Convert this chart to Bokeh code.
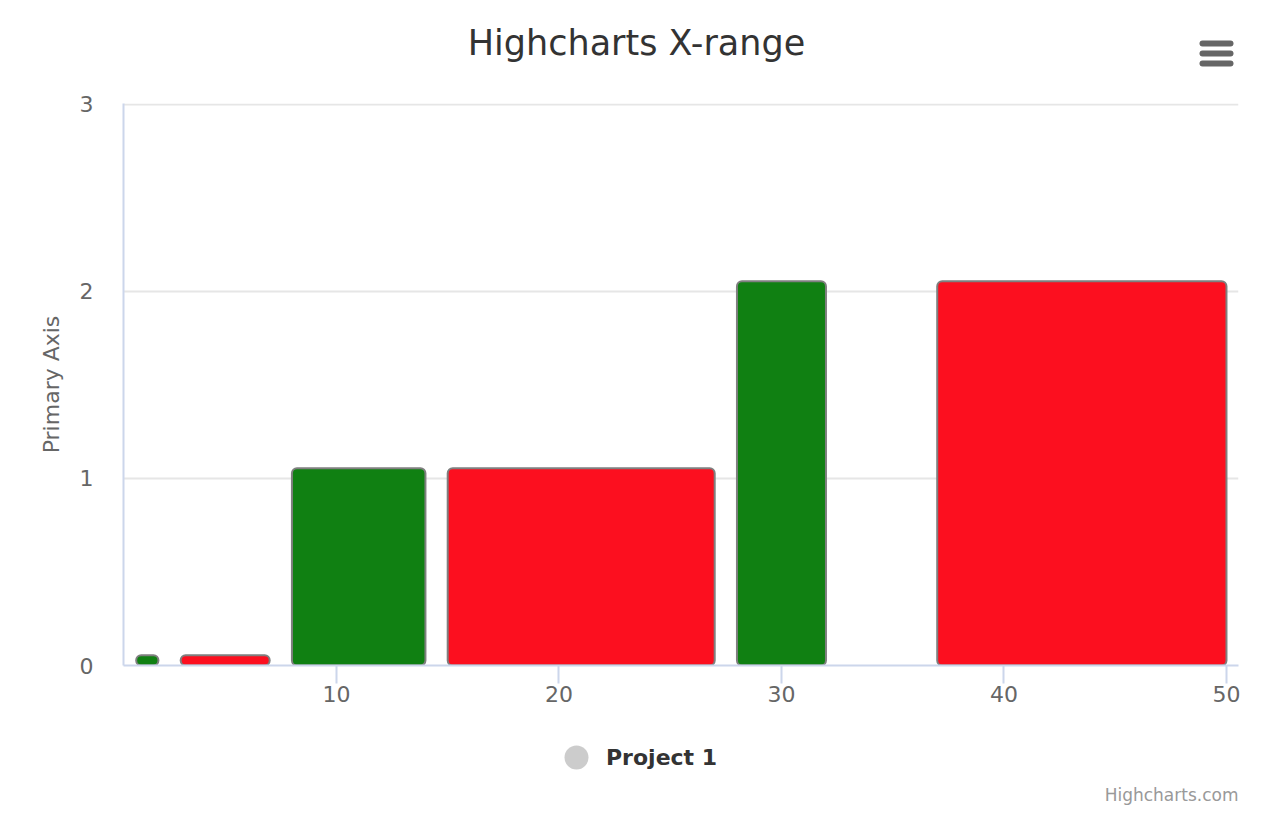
from bokeh.plotting import figure
from bokeh.layouts import column
from bokeh.models import (ColumnDataSource, FixedTicker, Legend, LegendItem,
                          Label, Range1d)
from bokeh.embed import file_html
from bokeh.resources import INLINE

# ---- data ----
x_start = [1, 3, 8, 15, 28, 37]
x_end = [2, 7, 14, 27, 32, 50]
y_top = [0.055, 0.055, 1.055, 1.055, 2.055, 2.055]
bar_colors = ["#108012", "#fc0f1f", "#108012", "#fc0f1f", "#108012", "#fc0f1f"]
x_ticks = [10, 20, 30, 40, 50]
y_ticks = [0, 1, 2, 3]
series_name = "Project 1"
chart_title = "Highcharts X-range"
credit_text = "Highcharts.com"

FONT = "DejaVu Sans"
W = 1256
FL, FR = 123, 1238   # page x of the plotting frame edges (frames are aligned in the column)


def bare(fig):
    fig.outline_line_color = None
    fig.background_fill_color = "white"
    fig.border_fill_color = "white"
    fig.grid.visible = False
    return fig


# ---- header: title + menu icon (page pixel coordinates, y down) ----
header = bare(figure(width=W, height=80, output_backend="svg", toolbar_location=None,
                     x_range=Range1d(FL, FR), y_range=Range1d(80, 0),
                     x_axis_location=None, y_axis_location=None,
                     min_border=0))
header.add_layout(Label(x=636, y=42, text=chart_title, text_align="center",
                        text_baseline="alphabetic", text_font=FONT,
                        text_font_size="35px", text_color="#333333"))
header.quad(left=[1199] * 3, right=[1233] * 3, top=[40, 50, 60],
            bottom=[46, 56, 66], fill_color="#666666", line_color=None,
            border_radius=3)

# ---- main chart ----
p = figure(width=W, height=635, output_backend="svg", toolbar_location=None,
           x_range=Range1d(0.43, 50.54), y_range=Range1d(0, 3.005),
           min_border_left=FL, min_border_right=W - FR, min_border_top=23,
           min_border_bottom=50)
p.outline_line_color = None
p.background_fill_color = "white"
p.border_fill_color = "white"

src = ColumnDataSource(dict(left=x_start, right=x_end, top=y_top,
                            bottom=[0] * len(x_start), color=bar_colors))
p.quad(left="left", right="right", top="top", bottom="bottom", source=src,
       fill_color="color", line_color="#7f7f7f", line_width=2, border_radius=5)

xa = p.xaxis[0]
xa.ticker = FixedTicker(ticks=x_ticks)
xa.axis_line_color = "#ccd6eb"
xa.axis_line_width = 2
xa.major_tick_line_color = "#ccd6eb"
xa.major_tick_line_width = 2
xa.major_tick_out = 18
xa.major_tick_in = 0
xa.minor_tick_line_color = None
xa.major_label_text_font = FONT
xa.major_label_text_font_size = "22px"
xa.major_label_text_color = "#666666"
xa.major_label_standoff = 2

ya = p.yaxis[0]
ya.ticker = FixedTicker(ticks=y_ticks)
ya.axis_line_color = "#ccd6eb"
ya.axis_line_width = 2
ya.major_tick_line_color = None
ya.minor_tick_line_color = None
ya.major_tick_out = 0
ya.major_tick_in = 0
ya.major_label_text_font = FONT
ya.major_label_text_font_size = "22px"
ya.major_label_text_color = "#666666"
ya.major_label_standoff = 30
ya.axis_label = "Primary Axis"
ya.axis_label_text_font = FONT
ya.axis_label_text_font_size = "22px"
ya.axis_label_text_font_style = "normal"
ya.axis_label_text_color = "#666666"
ya.axis_label_standoff = 13

p.xgrid.grid_line_color = None
p.ygrid.ticker = FixedTicker(ticks=[1, 2, 3])
p.ygrid.grid_line_color = "#e6e6e6"
p.ygrid.grid_line_width = 2

# ---- footer: legend + credits (page pixel coordinates, y down) ----
footer = bare(figure(width=W, height=91, output_backend="svg", toolbar_location=None,
                     x_range=Range1d(FL, FR), y_range=Range1d(806, 715),
                     x_axis_location=None, y_axis_location=None,
                     min_border=0))
leg_r = footer.scatter(x=[float("nan")], y=[float("nan")], size=24,
                       fill_color="#cccccc", line_color=None)
legend = Legend(items=[LegendItem(label=series_name, renderers=[leg_r])],
                orientation="horizontal", location=(546 - FL, 19),
                label_text_font=FONT, label_text_font_size="22px",
                label_text_font_style="bold", label_text_color="#333333",
                glyph_width=60, glyph_height=60, label_standoff=-14,
                border_line_color=None, background_fill_alpha=0,
                margin=0, padding=0)
footer.add_layout(legend, "center")
footer.add_layout(Label(x=1238, y=794, text=credit_text, text_align="right",
                        text_baseline="middle", text_font=FONT,
                        text_font_size="17px", text_color="#999999"))

layout = column(header, p, footer, spacing=0)
open("out.html", "w").write(file_html(layout, INLINE))
